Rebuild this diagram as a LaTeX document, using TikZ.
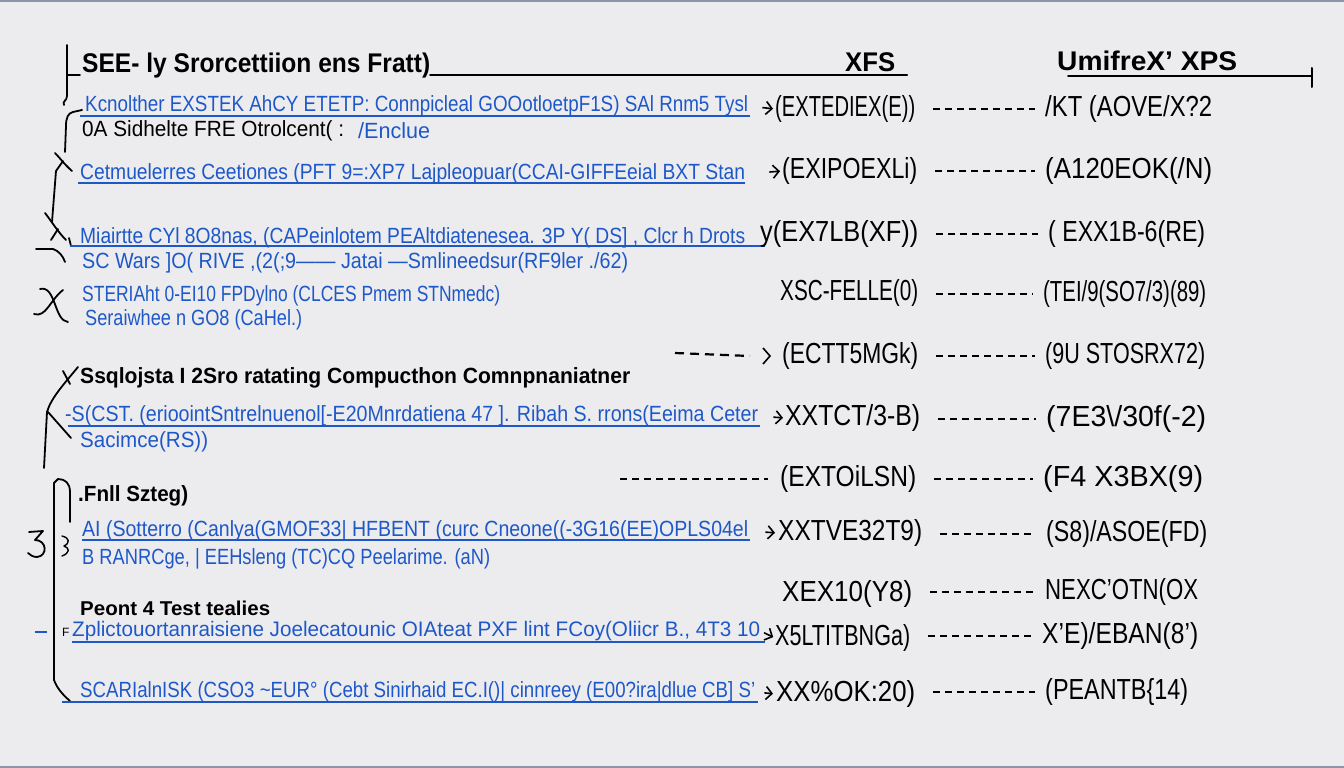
\documentclass[tikz,border=0pt]{standalone}
\usepackage{fontspec}
\setmainfont{Liberation Sans}
\usetikzlibrary{arrows.meta}
\definecolor{ublue}{RGB}{30,88,200}
\definecolor{bg}{RGB}{236,236,239}
\definecolor{edge}{RGB}{140,150,168}
\newcommand\fitw[2]{\resizebox{#1pt}{\height}{#2}}
\tikzset{
 bl/.style={anchor=west, inner sep=0pt, text=ublue, font=\fontsize{22}{24}\selectfont},
 bk/.style={anchor=west, inner sep=0pt, text=black, font=\fontsize{29}{31}\selectfont},
 hd/.style={anchor=west, inner sep=0pt, font=\bfseries\fontsize{27}{29}\selectfont},
 sh/.style={anchor=west, inner sep=0pt, font=\bfseries\fontsize{22}{24}\selectfont},
 ul/.style={draw=ublue, line width=1.8pt},
 dsh/.style={line width=2.2pt, dash pattern=on 7pt off 5pt},
 arr/.style={line width=1.6pt, -{Straight Barb[length=6pt,width=13pt]}},
 strk/.style={line width=1.8pt, line cap=round, line join=round},
}
\begin{document}
\begin{tikzpicture}[x=1pt,y=-1pt]
\fill[bg] (0,0) rectangle (1344,768);
\useasboundingbox (0,0) rectangle (1344,768);
\draw[edge, line width=2pt] (0,1) -- (1344,1);
\draw[edge, line width=2pt] (0,767) -- (1344,767);

% headers
\node[hd] (h1) at (82,66) {\fitw{348}{SEE- ly Srorcettiion ens Fratt)}};
\node[hd] (h2) at (845,62) {\fitw{50}{XFS}};
\node[hd] (h3) at (1057,61) {\fitw{180}{UmifreX' XPS}};
\draw[strk, line width=2pt] (430,75) -- (907,75);
\draw[strk, line width=2pt] (1068,76) -- (1312,76);
\draw[strk, line width=2pt] (1312,68) -- (1312,87);

% left decorations
\draw[strk] (67,45) -- (67,96) .. controls (67,101) and (62,101) .. (64,105);
\draw[strk] (67,75) -- (80,75);
\draw[strk] (82,110) -- (73,112) .. controls (68,113) and (66,118) .. (66,126) -- (65,152);
\draw[strk] (55,153) .. controls (60,158) and (64,164) .. (72,171);
\draw[strk] (63,161) -- (56,171);
\draw[strk] (56,171) -- (52,222);
\draw[strk] (45,213) .. controls (52,222) and (58,232) .. (66,240);
\draw[strk] (58,229) -- (51,240);
\draw[strk] (69,238) -- (71,246);
\draw[strk] (36,249) -- (53,249) .. controls (59,251) and (63,256) .. (65,262);
\draw[strk] (40,289) .. controls (56,285) and (54,321) .. (68,322);
\draw[strk] (63,290) .. controls (50,300) and (46,318) .. (34,314);
\draw[strk] (78,367) .. controls (64,384) and (51,398) .. (47,412) -- (44,468);
\draw[strk] (63,371) -- (70,384);
\draw[strk] (48,412) -- (71,438);
\draw[strk] (70,522) -- (70,492) .. controls (70,483) and (65,479) .. (58,479) -- (54,483) -- (54,680) .. controls (57,688) and (62,694) .. (70,701);
\draw[strk] (29,532) -- (43,531) -- (35,540) .. controls (47,540) and (48,556) .. (37,557) .. controls (33,557) and (30,555) .. (28,553);
\draw[strk, line width=1.4pt] (62,536) .. controls (70,538) and (70,543) .. (64,546) .. controls (70,548) and (70,553) .. (62,556);
\draw[ublue, line width=2.5pt] (35,632) -- (47,632);

% row 1
\node[bl] (b1) at (85,106) {\fitw{663}{Kcnolther EXSTEK AhCY ETETP: Connpicleal GOOotloetpF1S) SAl Rnm5 Tysl}};
\draw[ul] (80,116) -- (750,116);
\node[bl, text=black] (b1b) at (82,131) {\fitw{262}{0A Sidhelte FRE Otrolcent( :}};
\node[bl] (b1c) at (358,131) {\fitw{72}{/Enclue}};
\node[bk] (m1) at (775,109) {\fitw{140}{(EXTEDIEX(E))}};
\node[bk] (r1) at (1045,109) {\fitw{167}{/KT (AOVE/X?2}};

% row 2
\node[bl] (b2) at (80,174) {\fitw{665}{Cetmuelerres Ceetiones (PFT 9=:XP7 Lajpleopuar(CCAI-GIFFEeial BXT Stan}};
\draw[ul] (78,183) -- (745,183);
\node[bk] (m2) at (782,171) {\fitw{135}{(EXIPOEXLi)}};
\node[bk] (r2) at (1045,171) {\fitw{167}{(A120EOK(/N)}};

% row 3
\node[bl] (b3) at (80,238) {\fitw{665}{Miairtte CYl 8O8nas, (CAPeinlotem PEAltdiatenesea. 3P Y( DS] , Clcr h Drots}};
\draw[ul] (70,246) -- (765,246);
\node[bl] (b3b) at (82,263) {\fitw{546}{SC Wars ]O( RIVE ,(2(;9—— Jatai —Smlineedsur(RF9ler ./62)}};
\node[bk] (m3) at (760,234) {\fitw{158}{y(EX7LB(XF))}};
\node[bk] (r3) at (1048,234) {\fitw{157}{( EXX1B-6(RE)}};

% row 4
\node[bl] (b4) at (82,296) {\fitw{418}{STERIAht 0-EI10 FPDylno (CLCES Pmem STNmedc)}};
\node[bl] (b4b) at (85,320) {\fitw{217}{Seraiwhee n GO8 (CaHel.)}};
\node[bk] (m4) at (780,293) {\fitw{138}{XSC-FELLE(0)}};
\node[bk] (r4) at (1043,294) {\fitw{163}{(TEI/9(SO7/3)(89)}};

% row 5
\coordinate (c5) at (675,353);
\node[bk] (m5) at (782,356) {\fitw{136}{(ECTT5MGk)}};
\node[bk] (r5) at (1045,356) {\fitw{160}{(9U STOSRX72)}};
\node[sh] (s1) at (80,378) {\fitw{550}{Ssqlojsta I 2Sro ratating Compucthon Comnpnaniatner}};

% row 6
\node[bl] (b6) at (65,416) {\fitw{693}{-S(CST. (erioointSntrelnuenol[-E20Mnrdatiena 47 ]. Ribah S. rrons(Eeima Ceter}};
\draw[ul] (68,426) -- (760,426);
\node[bl] (b6b) at (80,442) {\fitw{128}{Sacimce(RS))}};
\node[bk] (m6) at (785,418) {\fitw{135}{XXTCT/3-B)}};
\node[bk] (r6) at (1046,419) {\fitw{160}{(7E3\textbackslash/30f(-2)}};

% row 7
\coordinate (c7) at (620,479);
\node[bk] (m7) at (780,479) {\fitw{136}{(EXTOiLSN)}};
\node[bk] (r7) at (1043,479) {\fitw{160}{(F4 X3BX(9)}};
\node[sh] (s2) at (78,496) {\fitw{110}{.Fnll Szteg)}};

% row 8
\node[bl] (b8) at (82,531) {\fitw{666}{AI (Sotterro (Canlya(GMOF33| HFBENT (curc Cneone((-3G16(EE)OPLS04el}};
\draw[ul] (82,540) -- (750,540);
\node[bl] (b8b) at (82,559) {\fitw{408}{B RANRCge, | EEHsleng (TC)CQ Peelarime. (aN)}};
\node[bk] (m8) at (778,533) {\fitw{144}{XXTVE32T9)}};
\node[bk] (r8) at (1046,534) {\fitw{161}{(S8)/ASOE(FD)}};

% row 9
\node[bk] (m9) at (782,594) {\fitw{130}{XEX10(Y8)}};
\node[bk] (r9) at (1045,592) {\fitw{153}{NEXC'OTN(OX}};
\node[sh, font=\bfseries\fontsize{20}{22}\selectfont] (s3) at (80,608) {\fitw{190}{Peont 4 Test tealies}};

% row 10
\node[anchor=west, inner sep=0pt, font=\fontsize{12}{12}\selectfont] (f10) at (62,632) {F};
\node[bl, font=\fontsize{21}{23}\selectfont] (b10) at (72,631) {\fitw{688}{Zplictouortanraisiene Joelecatounic OIAteat PXF lint FCoy(Oliicr B., 4T3 10}};
\draw[ul] (72,642) -- (765,642);
\node[bk] (m10) at (775,638) {\fitw{135}{X5LTITBNGa)}};
\node[bk] (r10) at (1042,636) {\fitw{156}{X'E)/EBAN(8')}};

% row 11
\node[bl] (b11) at (80,692) {\fitw{675}{SCARIalnISK (CSO3 \textasciitilde EUR° (Cebt Sinirhaid EC.I()| cinnreey (E00?ira|dlue CB] S'}};
\draw[ul] (62,702) -- (758,702);
\node[bk] (m11) at (776,694) {\fitw{139}{XX\%OK:20)}};
\node[bk] (r11) at (1045,692) {\fitw{143}{(PEANTB\{14)}};

% connectors blue -> middle
\draw[arr, shorten <=14pt, shorten >=2pt] (b1.east) -- (m1.west);
\draw[arr, shorten <=24pt, shorten >=2pt] (b2.east) -- (m2.west);
\draw[arr, shorten <=15pt, shorten >=2pt] (b6.east) -- (m6.west);
\draw[arr, shorten <=17pt, shorten >=3pt] (b8.east) -- (m8.west);
\draw[arr, shorten <=4pt, shorten >=2pt] (b10.east) -- (m10.west);
\draw[arr, shorten <=9pt, shorten >=3pt] (b11.east) -- (m11.west);
\draw[line width=2.2pt, dash pattern=on 9pt off 6pt] (c5) -- ([xshift=-32pt]m5.west);
\draw[line width=1.6pt] ([xshift=-19pt,yshift=-8pt]m5.west) -- ([xshift=-12pt]m5.west) -- ([xshift=-19pt,yshift=8pt]m5.west);
\draw[dsh] (c7) -- ([xshift=-12pt]m7.west);

% connectors middle -> right
\foreach \i in {1,...,11}{
  \draw[dsh] ([xshift=18pt]m\i.east |- r\i.west) -- ([xshift=-10pt]r\i.west);
}
\end{tikzpicture}
\end{document}
